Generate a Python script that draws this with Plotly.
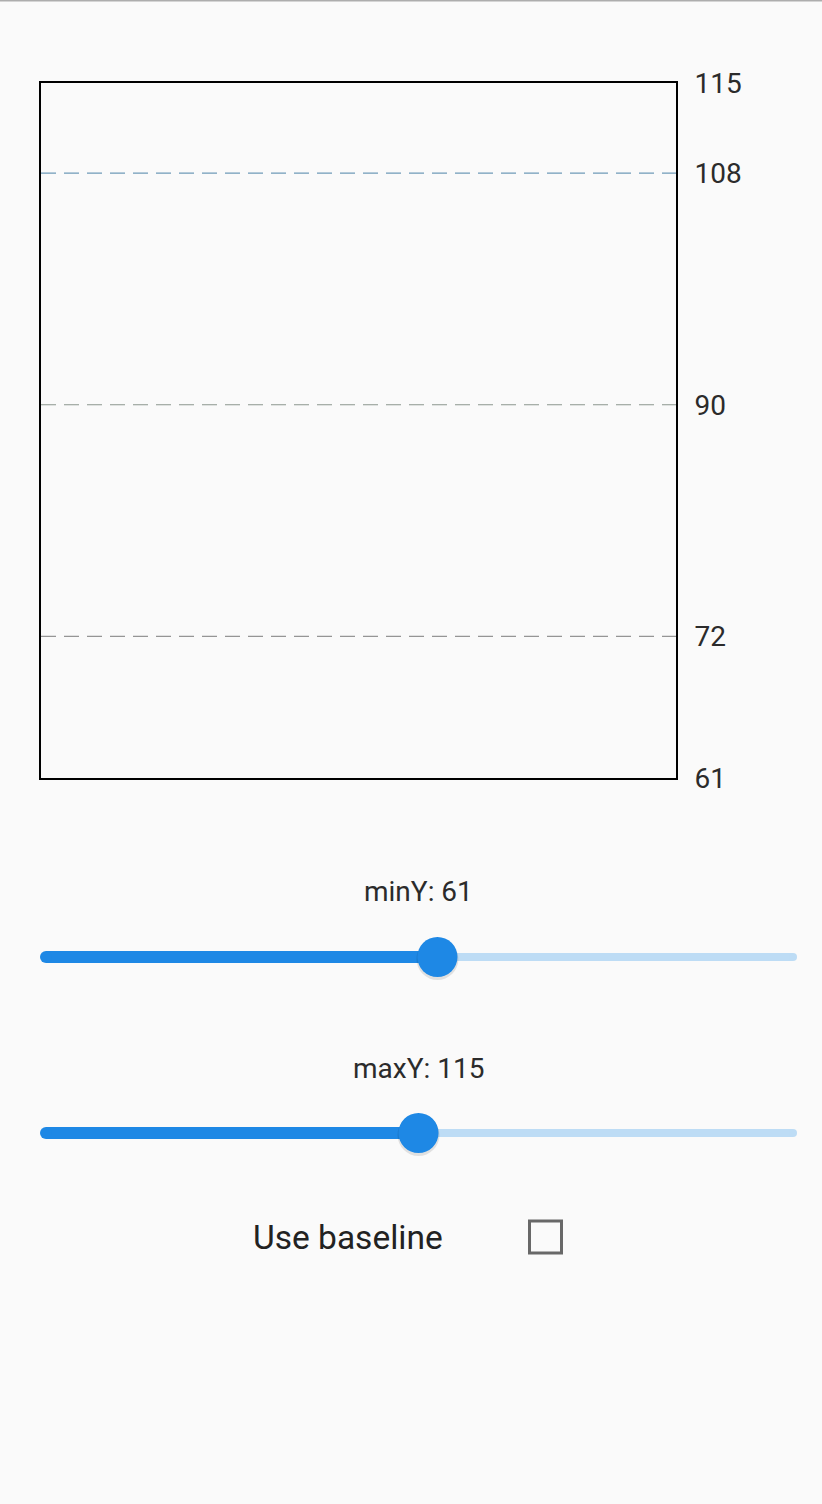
import plotly.graph_objects as go

# ---- data ----
y_min = 61
y_max = 115
y_ticks = [61, 72, 90, 108, 115]
grid_values = [108, 90, 72]
grid_colors = ["#6f9ab8", "#8c968f", "#959595"]
slider_labels = ["minY: 61", "maxY: 115"]
slider_fractions = [0.525, 0.500]
checkbox_label = "Use baseline"
checkbox_checked = [False]

W, H = 822, 1504
BG = "#fafafa"
BLUE = "#1e88e5"
LIGHT = "#bddcf5"
FONT = "Roboto"

fig = go.Figure()
fig.add_trace(go.Scatter(x=[None], y=[None], xaxis="x", yaxis="y", showlegend=False, hoverinfo="skip"))
fig.add_trace(go.Scatter(x=[None], y=[None], xaxis="x2", yaxis="y2", showlegend=False, hoverinfo="skip"))

shapes = []
# grid lines (data coords)
for v, c in zip(grid_values, grid_colors):
    shapes.append(dict(type="line", xref="x", yref="y", x0=0, x1=1, y0=v, y1=v,
                       line=dict(color=c, width=1.2, dash="15px,8px"), layer="below"))

# top status line
shapes.append(dict(type="line", xref="x2", yref="y2", x0=0, x1=W, y0=0.5, y1=0.5,
                   line=dict(color="#adadad", width=2)))

# sliders
track_x0, track_x1 = 40, 797
slider_ys = [957, 1133]
label_ys = [891, 1068]
annotations = []
for lab, frac, ty, ly in zip(slider_labels, slider_fractions, slider_ys, label_ys):
    tx = track_x0 + frac * (track_x1 - track_x0)
    # inactive track
    shapes.append(dict(type="rect", xref="x2", yref="y2", x0=tx, x1=track_x1 - 4, y0=ty - 4, y1=ty + 4,
                       fillcolor=LIGHT, line=dict(width=0)))
    shapes.append(dict(type="circle", xref="x2", yref="y2", x0=track_x1 - 8, x1=track_x1, y0=ty - 4, y1=ty + 4,
                       fillcolor=LIGHT, line=dict(width=0)))
    # active track
    shapes.append(dict(type="rect", xref="x2", yref="y2", x0=track_x0 + 6, x1=tx, y0=ty - 6, y1=ty + 6,
                       fillcolor=BLUE, line=dict(width=0)))
    shapes.append(dict(type="circle", xref="x2", yref="y2", x0=track_x0, x1=track_x0 + 12, y0=ty - 6, y1=ty + 6,
                       fillcolor=BLUE, line=dict(width=0)))
    # thumb shadow + thumb
    shapes.append(dict(type="circle", xref="x2", yref="y2", x0=tx - 21, x1=tx + 21, y0=ty - 19, y1=ty + 23,
                       fillcolor="rgba(0,0,0,0.10)", line=dict(width=0)))
    shapes.append(dict(type="circle", xref="x2", yref="y2", x0=tx - 20, x1=tx + 20, y0=ty - 20, y1=ty + 20,
                       fillcolor=BLUE, line=dict(width=0)))
    annotations.append(dict(xref="x2", yref="y2", x=(track_x0 + track_x1) / 2, y=ly, text=lab,
                            showarrow=False, xanchor="center", yanchor="middle",
                            font=dict(family=FONT, size=28, color="#2b2b2b")))

# checkbox
annotations.append(dict(xref="x2", yref="y2", x=347.5, y=1237, text=checkbox_label, showarrow=False,
                        xanchor="center", yanchor="middle", font=dict(family=FONT, size=33.5, color="#222222")))
shapes.append(dict(type="rect", xref="x2", yref="y2", x0=529.5, x1=561.5, y0=1221, y1=1253,
                   fillcolor="rgba(0,0,0,0)" if not checkbox_checked[0] else BLUE,
                   line=dict(color="#686868", width=3)))

fig.update_layout(
    width=W, height=H, autosize=False,
    margin=dict(l=0, r=0, t=0, b=0, pad=0),
    paper_bgcolor=BG, plot_bgcolor="rgba(0,0,0,0)",
    showlegend=False,
    xaxis=dict(domain=[41 / W, 676 / W], range=[0, 1], showgrid=False, zeroline=False,
               showticklabels=False, ticks="", showline=True, mirror=True, linecolor="#000000",
               linewidth=2, anchor="y", fixedrange=True, automargin=False),
    yaxis=dict(domain=[1 - 778 / H, 1 - 83 / H], range=[y_min, y_max], side="right",
               tickvals=y_ticks, ticktext=[str(t) for t in y_ticks], showgrid=False, zeroline=False,
               ticks="outside", ticklen=11, tickcolor="rgba(0,0,0,0)",
               tickfont=dict(family=FONT, size=28, color="#2b2b2b"),
               showline=True, mirror=True, linecolor="#000000", linewidth=2, anchor="x",
               fixedrange=True, automargin=False),
    xaxis2=dict(domain=[0, 1], range=[0, W], visible=False, anchor="y2", fixedrange=True, automargin=False),
    yaxis2=dict(domain=[0, 1], range=[H, 0], visible=False, anchor="x2", fixedrange=True, automargin=False),
    shapes=shapes,
    annotations=annotations,
)

fig.write_html("out.html", config={"displayModeBar": False})

# remove default page margins so the figure fills the window exactly
with open("out.html", "r", encoding="utf-8") as f:
    html = f.read()
html = html.replace("<head>", "<head><style>html,body{margin:0;padding:0;background:#fafafa;overflow:hidden}</style>", 1)
with open("out.html", "w", encoding="utf-8") as f:
    f.write(html)
